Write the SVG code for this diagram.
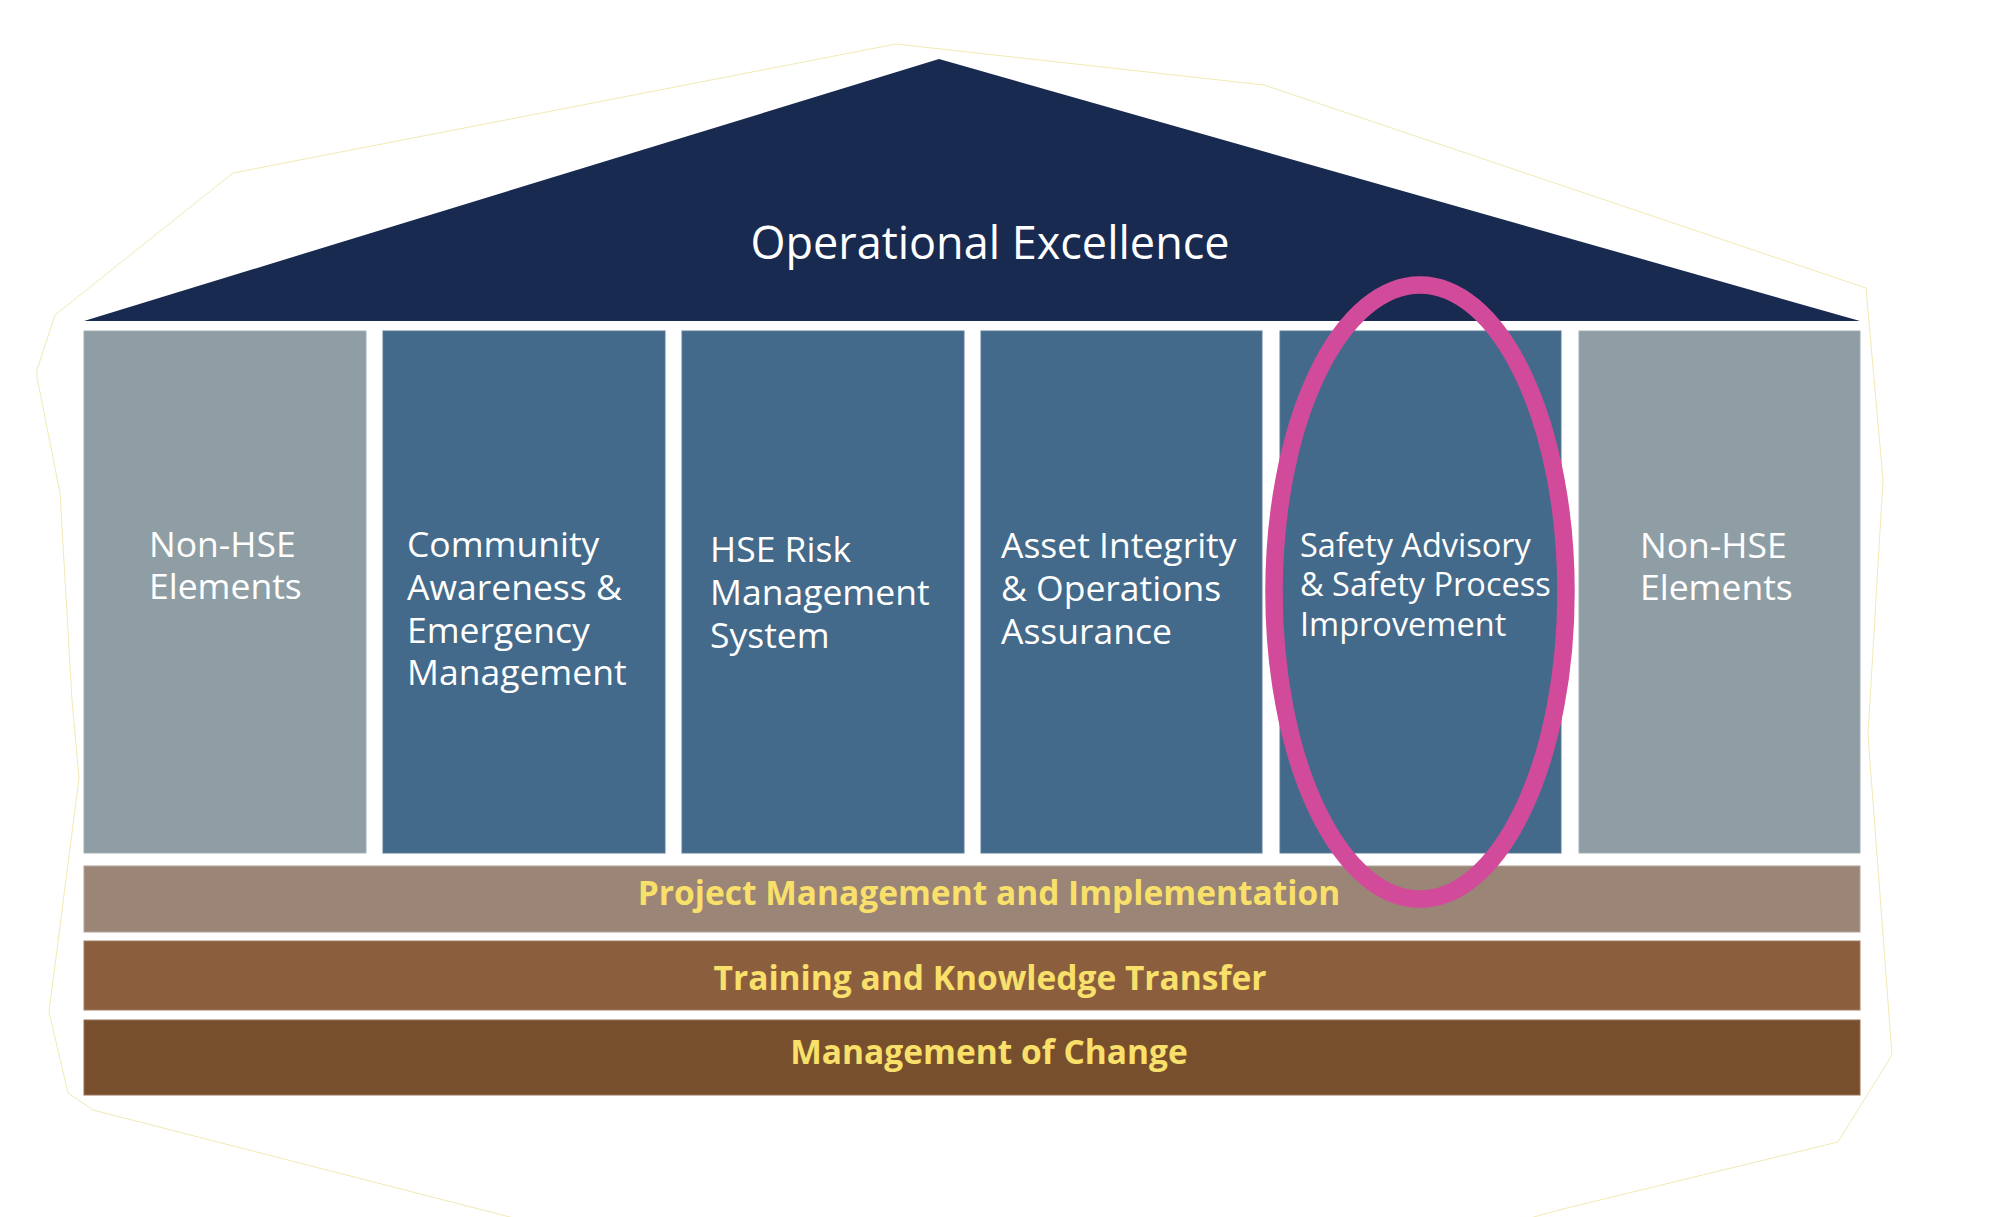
<svg xmlns="http://www.w3.org/2000/svg" width="2009" height="1217" viewBox="0 0 2009 1217">
  <style>
    .lbl { font-family: "Open Sans", "Noto Sans", "Liberation Sans", sans-serif; fill: #ffffff; font-size: 35.5px; }
    .lbl-sm { font-size: 32.5px; }
    .band-lbl { font-family: "Open Sans", "Noto Sans", "Liberation Sans", sans-serif; font-weight: 700; fill: #f9e06a; font-size: 33.5px; text-anchor: middle; }
    .title { font-family: "Open Sans", "Noto Sans", "Liberation Sans", sans-serif; fill: #ffffff; font-size: 45px; text-anchor: middle; }
    .pillar-blue { fill: #436a8a; stroke: #5a7c98; stroke-width: 1; }
    .pillar-grey { fill: #8f9ea5; stroke: #a3afb5; stroke-width: 1; }
  </style>
  <rect x="0" y="0" width="2009" height="1217" fill="#ffffff"/>

  <g id="outline">
    <polygon points="896,44 1264,85 1866,288 1883,480 1868,735 1892,1055 1838,1142 1563,1209 1450,1240 600,1240 510,1217 93,1110 68,1093 49,1012 79,778 72,700 60,493 37,377 37,370 55,315 233,173" fill="none" stroke="#f1eab4" stroke-width="1"/>
  </g>

  <g id="roof">
    <polygon points="939,59 1860,321 84,321" fill="#182a50"/>
    <text class="title" x="990" y="259">Operational Excellence</text>
  </g>

  <g id="pillar-non-hse-left">
    <rect class="pillar-grey" x="84" y="331" width="282" height="522"/>
    <text class="lbl" x="149" y="557"><tspan x="149" y="557">Non-HSE</tspan><tspan x="149" y="599">Elements</tspan></text>
  </g>

  <g id="pillar-community">
    <rect class="pillar-blue" x="383" y="331" width="282" height="522"/>
    <text class="lbl" x="407" y="557"><tspan x="407" y="557">Community</tspan><tspan x="407" y="600">Awareness &amp;</tspan><tspan x="407" y="643">Emergency</tspan><tspan x="407" y="685">Management</tspan></text>
  </g>

  <g id="pillar-hse-risk">
    <rect class="pillar-blue" x="682" y="331" width="282" height="522"/>
    <text class="lbl" x="710" y="562"><tspan x="710" y="562">HSE Risk</tspan><tspan x="710" y="605">Management</tspan><tspan x="710" y="648">System</tspan></text>
  </g>

  <g id="pillar-asset-integrity">
    <rect class="pillar-blue" x="981" y="331" width="281" height="522"/>
    <text class="lbl" x="1001" y="558"><tspan x="1001" y="558">Asset Integrity</tspan><tspan x="1001" y="601">&amp; Operations</tspan><tspan x="1001" y="644">Assurance</tspan></text>
  </g>

  <g id="pillar-safety-advisory">
    <rect class="pillar-blue" x="1280" y="331" width="281" height="522"/>
    <text class="lbl lbl-sm" x="1300" y="557"><tspan x="1300" y="557">Safety Advisory</tspan><tspan x="1300" y="596">&amp; Safety Process</tspan><tspan x="1300" y="636">Improvement</tspan></text>
  </g>

  <g id="pillar-non-hse-right">
    <rect class="pillar-grey" x="1579" y="331" width="281" height="522"/>
    <text class="lbl" x="1640" y="558"><tspan x="1640" y="558">Non-HSE</tspan><tspan x="1640" y="600">Elements</tspan></text>
  </g>

  <g id="band-project">
    <rect x="84" y="866" width="1776" height="66" fill="#9b8576" stroke="#b3a398" stroke-width="1"/>
    <text class="band-lbl" x="989" y="905">Project Management and Implementation</text>
  </g>

  <g id="band-training">
    <rect x="84" y="941" width="1776" height="69" fill="#8b5f3e" stroke="#a07e64" stroke-width="1"/>
    <text class="band-lbl" x="990" y="990">Training and Knowledge Transfer</text>
  </g>

  <g id="band-moc">
    <rect x="84" y="1020" width="1776" height="75" fill="#784f2c" stroke="#937258" stroke-width="1"/>
    <text class="band-lbl" x="989" y="1064">Management of Change</text>
  </g>

  <g id="highlight">
    <ellipse cx="1420" cy="592" rx="146" ry="307" fill="none" stroke="#d24b9b" stroke-width="17.5"/>
  </g>
</svg>
